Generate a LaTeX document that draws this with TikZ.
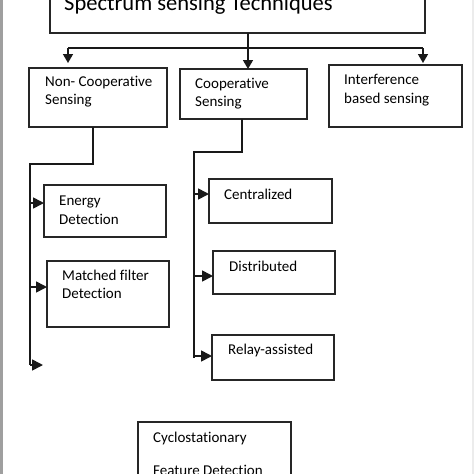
\documentclass[tikz,border=0pt]{standalone}
\usepackage{fontspec}
\setmainfont{Carlito}[Ligatures=NoCommon]
\usetikzlibrary{arrows.meta}
\tikzset{
  box/.style={draw=black!85, line width=1.5pt, inner sep=0pt, outer sep=0pt, anchor=north west},
  lbl/.style={font=\fontsize{15}{18.5}\selectfont, text=black, align=left, inner sep=0pt, anchor=base west},
  ln/.style={draw=black!90, line width=1.6pt},
  arr/.style={ln, -{Triangle[length=11pt,width=11pt]}},
  arrs/.style={ln, -{Triangle[length=9pt,width=10pt]}}
}
\begin{document}
\begin{tikzpicture}[x=1pt,y=-1pt]
\useasboundingbox (0,0) rectangle (474,474);
\clip (0,0) rectangle (474,474);
\fill[white] (0,0) rectangle (474,474);
\fill[gray!75] (0,0) rectangle (2.5,474);
\fill[gray!15] (472,0) rectangle (474,474);

% title
\node[box, minimum width=375pt, minimum height=53pt] (top) at (50,-20) {};
\node[lbl, font=\fontsize{22.5}{26}\selectfont] (ttl) at (64,10) {Spectrum sensing Techniques};

% level 1
\node[box, minimum width=138pt, minimum height=59pt] (nc) at (29,68) {};
\node[lbl] (nct) at (45,104.5) {Non- Cooperative\\Sensing};
\node[box, minimum width=127pt, minimum height=50pt] (co) at (180,69) {};
\node[lbl] (cot) at (195,106.5) {Cooperative\\Sensing};
\node[box, minimum width=133pt, minimum height=62pt] (ib) at (329,65) {};
\node[lbl] (ibt) at (344,103) {Interference\\based sensing};

% non-cooperative children
\node[box, minimum width=122pt, minimum height=52pt] (en) at (44,185) {};
\node[lbl] (ent) at (59,224) {Energy\\Detection};
\node[box, minimum width=122pt, minimum height=66pt] (mf) at (47,261) {};
\node[lbl] (mft) at (62,298.5) {Matched filter\\Detection};

% cooperative children
\node[box, minimum width=123pt, minimum height=44pt] (ce) at (209,179) {};
\node[lbl] (cet) at (224,199) {Centralized};
\node[box, minimum width=122pt, minimum height=43pt] (di) at (213,251) {};
\node[lbl] (dit) at (229,271) {Distributed};
\node[box, minimum width=122pt, minimum height=45pt] (re) at (212,335) {};
\node[lbl] (ret) at (228,354) {Relay-assisted};

% cyclostationary
\node[box, minimum width=153pt, minimum height=80pt] (cy) at (138,422) {};
\node[lbl, font=\fontsize{15}{33}\selectfont] (cyt) at (153,475) {Cyclostationary\\Feature Detection};

% coordinates
\coordinate (j0) at (248,48);
\coordinate (jl) at (68,48);
\coordinate (jr) at (423,48);
\coordinate (n1) at (93,164);
\coordinate (n2) at (30,164);
\coordinate (nfree) at (43,365);
\coordinate (c1) at (242,152);
\coordinate (c2) at (194,152);

% top connectors
\draw[arrs] (top.south -| j0) -- (co.north -| j0);
\draw[ln] (jl) -- (jr);
\draw[arrs] (jl) -- ([yshift=5pt]nc.north -| jl);
\draw[arrs] (jr) -- ([yshift=2pt]ib.north -| jr);

% non-cooperative branch
\draw[ln] (nc.south -| n1) -- (n1) -- (n2) -- (n2 |- nfree);
\draw[arr] (n2 |- 0,203) -- (en.west |- 0,203);
\draw[arr] (n2 |- 0,287) -- (mf.west |- 0,287);
\draw[arr] (n2 |- nfree) -- (nfree);

% cooperative branch
\draw[ln] (co.south -| c1) -- (c1) -- (c2) -- (c2 |- re.west);
\draw[arr] (c2 |- 0,194) -- (ce.west |- 0,194);
\draw[arr] (c2 |- 0,276) -- (di.west |- 0,276);
\draw[arr] (c2 |- 0,356) -- (re.west |- 0,356);
\end{tikzpicture}
\end{document}
